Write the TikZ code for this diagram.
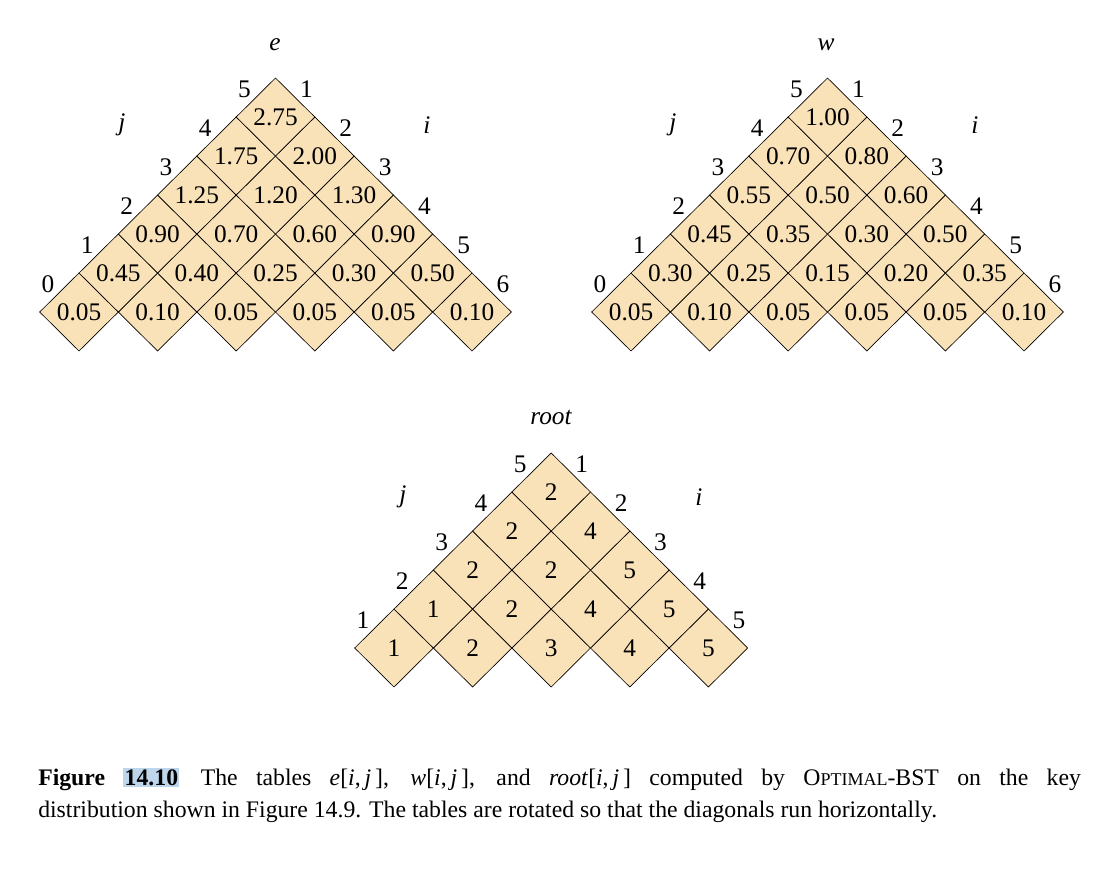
\documentclass[tikz,border=0pt]{standalone}
\usepackage{fontspec}
\setmainfont{Liberation Serif}
\usepackage{xcolor}
\definecolor{cellfill}{RGB}{250,226,184}
\definecolor{hilite}{RGB}{190,214,236}
\begin{document}
\begin{tikzpicture}[x=0.75pt,y=-0.75pt,
  cellpath/.style={fill=cellfill,draw=black,line width=0.5pt},
  celltext/.style={font=\fontsize{19}{20}\selectfont,inner sep=0pt},
  idx/.style={font=\fontsize{19}{20}\selectfont,inner sep=0pt},
  ttl/.style={font=\fontsize{19}{20}\selectfont\itshape,inner sep=0pt}]
\useasboundingbox (0,0) rectangle (1116,878);
\newcommand{\mytable}[5]{%
  \foreach \row [count=\r from 0] in {#5} {
    \foreach \v [count=\k from 0] in \row {
      \pgfmathsetmacro{\cx}{#2+39.3*\r+78.6*\k}
      \pgfmathsetmacro{\cy}{#3-39*\r}
      \path[cellpath] (\cx-39.3,\cy) -- (\cx,\cy-39) -- (\cx+39.3,\cy) -- (\cx,\cy+39) -- cycle;
    }
  }
  \foreach \row [count=\r from 0] in {#5} {
    \foreach \v [count=\k from 0] in \row {
      \pgfmathsetmacro{\cx}{#2+39.3*\r+78.6*\k}
      \pgfmathsetmacro{\cy}{#3-39*\r}
      \node[celltext] (#1-\r-\k) at (\cx,\cy) {\v};
    }
  }
}
% e table
\mytable{e}{79}{312}{6}{{0.05,0.10,0.05,0.05,0.05,0.10},{0.45,0.40,0.25,0.30,0.50},{0.90,0.70,0.60,0.90},{1.25,1.20,1.30},{1.75,2.00},{2.75}}
\foreach \m in {0,...,5}{
  \node[idx] (ej\m) at (40+39.3*\m+8,312-39*\m-28) {\m};
  \pgfmathtruncatemacro{\n}{6-\m}
  \node[idx] (ei\m) at (512-39.3*\m-9,312-39*\m-28) {\n};
}
\node[ttl] (ejl) at (122,125) {j};
\node[ttl] (eil) at (427,125) {i};
\node[ttl] (etl) at (275,45) {e};
% w table
\mytable{w}{631}{312}{6}{{0.05,0.10,0.05,0.05,0.05,0.10},{0.30,0.25,0.15,0.20,0.35},{0.45,0.35,0.30,0.50},{0.55,0.50,0.60},{0.70,0.80},{1.00}}
\foreach \m in {0,...,5}{
  \node[idx] (wj\m) at (592+39.3*\m+8,312-39*\m-28) {\m};
  \pgfmathtruncatemacro{\n}{6-\m}
  \node[idx] (wi\m) at (1064-39.3*\m-9,312-39*\m-28) {\n};
}
\node[ttl] (wjl) at (673,125) {j};
\node[ttl] (wil) at (975,125) {i};
\node[ttl] (wtl) at (826,45) {w};
% root table
\mytable{r}{394}{648}{5}{{1,2,3,4,5},{1,2,4,5},{2,2,5},{2,4},{2}}
\foreach \m in {0,...,4}{
  \pgfmathtruncatemacro{\a}{\m+1}
  \node[idx] (rj\m) at (355+39.3*\m+8,648-39*\m-28) {\a};
  \pgfmathtruncatemacro{\n}{5-\m}
  \node[idx] (ri\m) at (748-39.3*\m-9,648-39*\m-28) {\n};
}
\node[ttl] (rjl) at (403,497) {j};
\node[ttl] (ril) at (699,497) {i};
\node[ttl] (rtl) at (551,417) {root};
% caption
\node[anchor=north west,inner sep=0pt,text width=782pt,align=justify,
  font=\fontsize{17.8}{24}\selectfont] (cap) at (38,768)
  {\textbf{Figure {\setlength{\fboxsep}{1pt}\colorbox{hilite}{14.10}}}\hspace{0.9em}The tables \textit{e}[\textit{i},\,\textit{j}\,], \textit{w}[\textit{i},\,\textit{j}\,], and \textit{root}[\textit{i},\,\textit{j}\,] computed by O{\fontsize{13.5}{24}\selectfont PTIMAL}-BST on the key\linebreak distribution shown in Figure 14.9. The tables are rotated so that the diagonals run horizontally.};
\end{tikzpicture}
\end{document}
